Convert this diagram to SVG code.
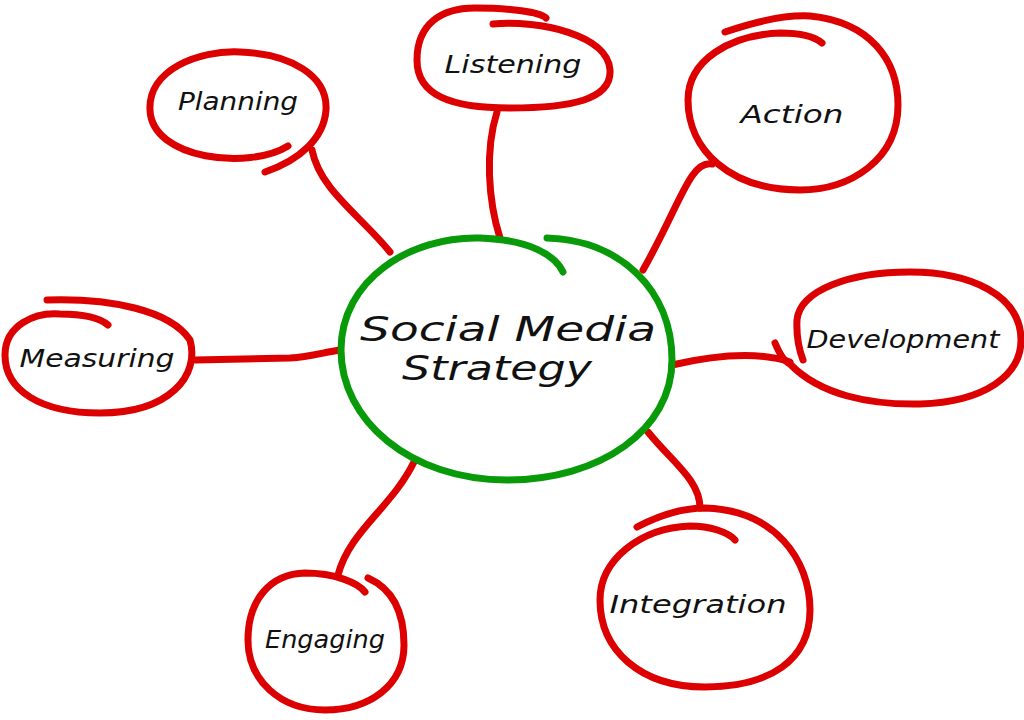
<svg xmlns="http://www.w3.org/2000/svg" width="1024" height="720" viewBox="0 0 1024 720">
<style>
.r{fill:none;stroke:#dd0000;stroke-width:7;stroke-linecap:round;stroke-linejoin:round}
.g{fill:none;stroke:#089a08;stroke-width:7;stroke-linecap:round}
.t{font-family:"DejaVu Sans","Liberation Sans",sans-serif;font-style:oblique;font-weight:300;fill:#111;font-size:25px}
.c{font-size:34px}
</style>
<rect width="1024" height="720" fill="#fff"/>
<g id="connectors">
<path class="r" d="M312,150 C320,190 360,215 390,252"/>
<path class="r" d="M497,112 C485,150 488,200 500,238"/>
<path class="r" d="M712,164 C690,160 680,205 643,270"/>
<path class="r" d="M672,365 C720,354 760,352 790,362"/>
<path class="r" d="M195,360 L290,358 C310,357 325,352 340,350"/>
<path class="r" d="M700,508 C700,480 672,462 648,432"/>
<path class="r" d="M338,575 C350,530 392,508 415,460"/>
</g>
<g id="center">
<path class="g" d="M547,238 C620,240 672,290 672,360 C672,430 600,480 507,480 C410,480 341,420 341,350 C341,280 410,236 480,238 C530,240 555,255 563,272"/>
<text class="t c" x="508" y="341" text-anchor="middle" textLength="296" lengthAdjust="spacingAndGlyphs">Social Media</text>
<text class="t c" x="497" y="380" text-anchor="middle" textLength="190" lengthAdjust="spacingAndGlyphs">Strategy</text>
</g>
<g id="planning">
<path class="r" d="M288,146 C250,170 152,160 150,110 C148,70 198,50 240,52 C290,54 328,75 326,110 C324,138 300,160 265,172"/>
<text class="t" x="238" y="110" text-anchor="middle" textLength="120" lengthAdjust="spacingAndGlyphs">Planning</text>
</g>
<g id="listening">
<path class="r" d="M493,24 C540,20 608,35 610,70 C612,100 570,108 510,108 C450,108 417,95 417,60 C417,25 440,8 475,8 C510,8 540,12 546,18"/>
<text class="t" x="513" y="73" text-anchor="middle" textLength="137" lengthAdjust="spacingAndGlyphs">Listening</text>
</g>
<g id="action">
<path class="r" d="M725,32 C760,20 790,15 810,16 C870,22 898,60 898,105 C898,160 850,190 800,190 C730,190 688,150 688,100 C688,60 730,35 780,33 C800,33 815,37 822,43"/>
<text class="t" x="792" y="123" text-anchor="middle" textLength="103" lengthAdjust="spacingAndGlyphs">Action</text>
</g>
<g id="development">
<path class="r" d="M775,343 C780,355 785,362 790,364 C820,395 870,405 920,404 C985,402 1021,375 1021,340 C1021,295 970,272 910,272 C850,272 800,290 797,320 C796,340 800,352 803,360"/>
<text class="t" x="903" y="348" text-anchor="middle" textLength="193" lengthAdjust="spacingAndGlyphs">Development</text>
</g>
<g id="measuring">
<path class="r" d="M47,300 C110,298 170,310 190,340 C200,375 170,413 100,413 C40,413 5,390 5,355 C5,325 35,312 60,314 C85,314 100,318 108,325"/>
<text class="t" x="97" y="367" text-anchor="middle" textLength="155" lengthAdjust="spacingAndGlyphs">Measuring</text>
</g>
<g id="integration">
<path class="r" d="M637,527 C660,515 685,508 705,508 C775,510 810,560 810,610 C810,660 770,687 705,687 C640,687 600,650 600,600 C600,560 640,528 690,526 C710,526 728,532 735,540"/>
<text class="t" x="698" y="613" text-anchor="middle" textLength="177" lengthAdjust="spacingAndGlyphs">Integration</text>
</g>
<g id="engaging">
<path class="r" d="M368,578 C395,590 404,615 404,645 C404,685 370,710 325,710 C280,710 248,680 248,640 C248,600 270,574 305,573 C335,573 358,583 365,592"/>
<text class="t" x="325" y="648" text-anchor="middle" textLength="120" lengthAdjust="spacingAndGlyphs">Engaging</text>
</g>
</svg>
